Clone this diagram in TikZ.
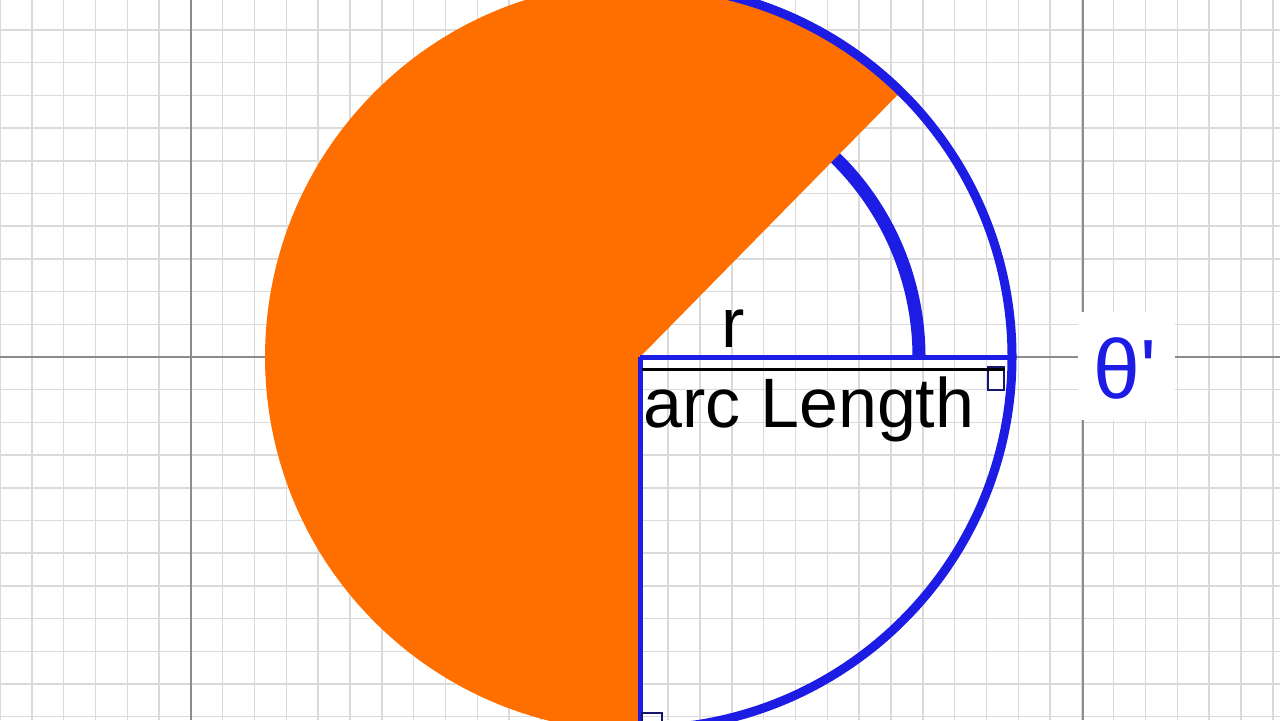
\documentclass[tikz,border=0pt]{standalone}
\usepackage{fontspec}
\setmainfont{Liberation Sans}
\usepackage{tikz}

\definecolor{sectororange}{RGB}{255,111,0}
\definecolor{circleblue}{RGB}{28,28,228}
\definecolor{markernavy}{RGB}{22,22,110}
\definecolor{gridgray}{RGB}{218,218,218}
\definecolor{axisgray}{RGB}{140,140,140}

\begin{document}
\begin{tikzpicture}[x=0.01cm,y=0.01cm,
  gridline/.style={gridgray,line width=0.015cm},
  axisline/.style={axisgray,line width=0.02cm},
  bluestroke/.style={circleblue,line width=#1},
  marker/.style={markernavy,line width=0.025cm},
  label/.style={inner sep=0pt,anchor=base west}]
\useasboundingbox (-640,-363) rectangle (640,357);
\fill[white] (-640,-363) rectangle (640,357);

% grid
\foreach \k in {0,...,40}
  \draw[gridline] ({31.82*\k-640},-363) -- ({31.82*\k-640},357);
\foreach \j in {-1,...,21}
  \draw[gridline] (-640,{327-32.7*\j}) -- (640,{327-32.7*\j});
\draw[axisline] (-449,-363) -- (-449,357);
\draw[axisline] (443,-363) -- (443,357);
\draw[axisline] (-640,0) -- (640,0);

% sector and circle
\fill[sectororange] (0,0) -- (45.5:375) arc (45.5:270:375) -- cycle;
\draw[bluestroke=0.09cm] (-90:372) arc (-90:100:372);
\draw[bluestroke=0.13cm] (0:279) arc (0:45.5:279);
\draw[bluestroke=0.05cm] (0,0) -- (372,0);
\draw[bluestroke=0.05cm] (0,0) -- (0,-372);

% right angle marks
\draw[marker] (348,-10) rectangle (364,-33);
\draw[marker] (2,-356) rectangle (22,-370);

% fraction
\draw[black,line width=0.03cm] (2,-12) -- (365,-12);
\node[label,font=\fontsize{19.9}{24}\selectfont] (radius) at (81,10) {r};
\node[label,font=\fontsize{19.9}{24}\selectfont] (arclen) at (3,-70) {arc Length};

% angle label
\fill[white] (438,45) rectangle (535,-63);
\node[label,text=circleblue,font=\fontsize{23.9}{28}\selectfont] (theta) at (453,-41) {θ\textquotesingle};
\end{tikzpicture}
\end{document}
